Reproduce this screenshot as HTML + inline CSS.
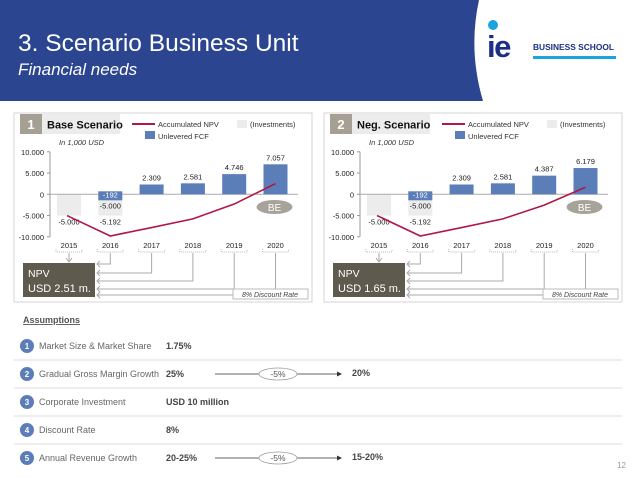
<!DOCTYPE html>
<html><head><meta charset="utf-8"><style>
html,body{margin:0;padding:0;background:#fff;}
svg{display:block;font-family:"Liberation Sans",sans-serif;}
</style></head><body>
<svg id="s" width="638" height="478" viewBox="0 0 638 478" xmlns="http://www.w3.org/2000/svg">
<path d="M0,0 H479 Q468,50 483,101 H0 Z" fill="#2b4590"/>
<text x="18" y="51" font-size="24.5" fill="#fff">3. Scenario Business Unit</text>
<text x="18" y="75" font-size="17" font-style="italic" fill="#fff">Financial needs</text>
<g>
<circle cx="493" cy="25" r="5" fill="#1aa3dd"/>
<text x="487" y="57" font-size="31" font-weight="bold" fill="#1a2f85" letter-spacing="-1.5">ie</text>
<text x="533" y="50" font-size="8.4" font-weight="bold" fill="#1a2f85">BUSINESS SCHOOL</text>
<rect x="533" y="56" width="83" height="3" fill="#1aa3dd"/>
</g>
<g id="panels"></g>
<g id="assump"></g>
<text x="626" y="468" font-size="8" fill="#999" text-anchor="end">12</text>
</svg>
<script>
const years = ["2015","2016","2017","2018","2019","2020"];
const investments = [-5000, -5000, 0, 0, 0, 0];
const fcfBase = [0, -192, 2309, 2581, 4746, 7057];
const fcfNeg = [0, -192, 2309, 2581, 4387, 6179];
const npvBase = [-5000, -9807, -7827, -5778, -2290, 2513];
const npvNeg = [-5000, -9807, -7828, -5779, -2554, 1652];
const yTicks = [10000, 5000, 0, -5000, -10000];
const yTickLabels = ["10.000","5.000","0","-5.000","-10.000"];
const fcfLabelsBase = ["", "-192", "2.309", "2.581", "4.746", "7.057"];
const fcfLabelsNeg = ["", "-192", "2.309", "2.581", "4.387", "6.179"];

const NS = "http://www.w3.org/2000/svg";
function mk(parent, tag, attrs, txt){
  const e = document.createElementNS(NS, tag);
  for (const k in attrs) e.setAttribute(k, attrs[k]);
  if (txt !== undefined) e.textContent = txt;
  parent.appendChild(e);
  return e;
}
function fmt(v){ const s=Math.abs(v).toString(); const t=s.length>3? s.slice(0,-3)+"."+s.slice(-3):s; return (v<0?"-":"")+t; }

function panel(ox, num, title, fcf, fcfLbl, npv, npvText){
  const g = mk(document.getElementById("panels"), "g", {transform:"translate("+ox+",0)"});
  
  
  const y = v => 194.3 - v*0.00425;
  const x = i => 69 + i*41.3;
  mk(g,"rect",{x:14,y:113,width:298,height:189,fill:"none",stroke:"#d4d4d4"});
  const hn = mk(g,"rect",{x:20,y:114,width:22,height:20,fill:"#a59f94"});
  
  
  mk(g,"text",{x:31,y:129,"font-size":13,"font-weight":"bold",fill:"#fff","text-anchor":"middle"},num);
  mk(g,"rect",{x:42,y:114,width:78,height:20,fill:"#ececec"});
  const tt = mk(g,"text",{x:47,y:128.5,"font-size":11,"font-weight":"bold",fill:"#111"},title);
  
  
  const lg = mk(g,"g",{});
  
  
  mk(lg,"line",{x1:132,y1:124,x2:155,y2:124,stroke:"#b0174a","stroke-width":2});
  mk(lg,"text",{x:158,y:127,"font-size":7.5,fill:"#333"},"Accumulated NPV");
  mk(lg,"rect",{x:145,y:131,width:10,height:8,fill:"#5b7db8"});
  mk(lg,"text",{x:158,y:139,"font-size":7.5,fill:"#333"},"Unlevered FCF");
  mk(lg,"rect",{x:237,y:120,width:10,height:8,fill:"#ececec"});
  mk(lg,"text",{x:250,y:127,"font-size":7.5,fill:"#333"},"(Investments)");
  mk(g,"text",{x:59,y:145,"font-size":7.5,"font-style":"italic",fill:"#333"},"In 1,000 USD");
  const ax = mk(g,"g",{});
  
  
  mk(ax,"line",{x1:50,y1:y(10000),x2:50,y2:y(-10000),stroke:"#999"});
  yTicks.forEach((t,i)=>{
    mk(ax,"line",{x1:47,y1:y(t),x2:50,y2:y(t),stroke:"#999"});
    mk(ax,"text",{x:44,y:y(t)+3,"font-size":7.5,fill:"#222","text-anchor":"end"},yTickLabels[i]);
  });
  investments.forEach((v,i)=>{
    if(!v) return;
    const r = mk(g,"rect",{x:x(i)-12,y:y(0),width:24,height:y(v)-y(0),fill:"#ececec"});
    
    
  });
  mk(g,"line",{x1:50,y1:y(0),x2:298,y2:y(0),stroke:"#aaa"});
  fcf.forEach((v,i)=>{
    if(!v) return;
    const top = Math.min(y(v),y(0)), h=Math.abs(y(v)-y(0));
    if (v<0){
      const r = mk(g,"rect",{x:x(i)-12,y:y(0)-3,width:24,height:Math.max(h,6)+3,fill:"#5b7db8"});
      
      
      mk(g,"text",{x:x(i),y:y(0)+3,"font-size":7.5,fill:"#fff","text-anchor":"middle"},fcfLbl[i]);
    } else {
      const r = mk(g,"rect",{x:x(i)-12,y:top,width:24,height:h,fill:"#5b7db8"});
      
      
      mk(g,"text",{x:x(i),y:top-4,"font-size":7.5,fill:"#222","text-anchor":"middle"},fcfLbl[i]);
    }
  });
  mk(g,"text",{x:x(0),y:y(-5000)+9,"font-size":7.5,fill:"#222","text-anchor":"middle"},fmt(investments[0]));
  mk(g,"text",{x:x(1),y:y(-3300),"font-size":7.5,fill:"#222","text-anchor":"middle"},fmt(investments[1]));
  mk(g,"text",{x:x(1),y:y(-5000)+9,"font-size":7.5,fill:"#222","text-anchor":"middle"},fmt(investments[1]+fcf[1]));
  const be = mk(g,"g",{});
  
  
  mk(be,"ellipse",{cx:x(5)-1,cy:207,rx:18,ry:7,fill:"#a8a39a"});
  mk(be,"text",{x:x(5)-1,y:211,"font-size":10,fill:"#fff","text-anchor":"middle"},"BE");
  const pts = npv.map((v,i)=>(x(i)+(i==0?-2:0))+","+y(v)).join(" ");
  const pl = mk(g,"polyline",{points:pts,fill:"none",stroke:"#b0174a","stroke-width":1.6});
  
  
  const levels=[0,264,273,281,289,295];
  years.forEach((yr,i)=>{
    const t = mk(g,"text",{x:x(i),y:248,"font-size":7.5,fill:"#222","text-anchor":"middle"},yr);
    
    
    mk(g,"path",{d:"M"+(x(i)-13)+",249 v3 h26 v-3",fill:"none",stroke:"#bbb","stroke-dasharray":"1,1"});
    if(i===0){
      mk(g,"path",{d:"M"+x(i)+",253 V262 M"+(x(i)-3)+",258 L"+x(i)+",262 L"+(x(i)+3)+",258",fill:"none",stroke:"#aaa"});
    } else {
      mk(g,"path",{d:"M"+x(i)+",253 V"+levels[i]+" H97 M100,"+(levels[i]-3)+" L97,"+levels[i]+" L100,"+(levels[i]+3),fill:"none",stroke:"#aaa"});
    }
  });
  const nb = mk(g,"g",{});
  
  
  mk(nb,"rect",{x:23,y:263,width:72,height:34,fill:"#5e5a4d"});
  const t1 = mk(nb,"text",{x:28,y:277,"font-size":10.5,fill:"#fff"},"NPV");
  mk(nb,"tspan",{"font-size":6.5,dy:2},"Project");
  mk(nb,"text",{x:28,y:292,"font-size":11,fill:"#fff"},npvText);
  const dr = mk(g,"g",{});
  
  
  mk(dr,"rect",{x:233,y:289,width:75,height:10,fill:"#fff",stroke:"#bbb"});
  mk(dr,"text",{x:270,y:297,"font-size":7,"font-style":"italic",fill:"#444","text-anchor":"middle"},"8% Discount Rate");
}
panel(0,"1","Base Scenario",fcfBase,fcfLabelsBase,npvBase,"USD 2.51 m.");
panel(310,"2","Neg. Scenario",fcfNeg,fcfLabelsNeg,npvNeg,"USD 1.65 m.");

const A = document.getElementById("assump");
const ah = mk(A,"text",{x:23,y:323,"font-size":9,"font-weight":"bold",fill:"#555","text-decoration":"underline"},"Assumptions");


const rows = [
  ["Market Size & Market Share","1.75%",null],
  ["Gradual Gross Margin Growth","25%","20%"],
  ["Corporate Investment","USD 10 million",null],
  ["Discount Rate","8%",null],
  ["Annual Revenue Growth","20-25%","15-20%"]
];
rows.forEach((r,i)=>{
  const cy = 346 + i*28;
  const g = mk(A,"g",{});
  
  
  mk(g,"circle",{cx:27,cy:cy,r:7,fill:"#5b7db8"});
  mk(g,"text",{x:27,y:cy+3,"font-size":8,"font-weight":"bold",fill:"#fff","text-anchor":"middle"},String(i+1));
  mk(g,"text",{x:39,y:cy+3,"font-size":9,fill:"#666"},r[0]);
  mk(g,"text",{x:166,y:cy+3,"font-size":9,"font-weight":"bold",fill:"#444"},r[1]);
  if (r[2]){
    mk(g,"line",{x1:215,y1:cy,x2:337,y2:cy,stroke:"#333","stroke-width":0.8});
    mk(g,"path",{d:"M337,"+(cy-2.5)+" L342,"+cy+" L337,"+(cy+2.5)+" Z",fill:"#333"});
    mk(g,"ellipse",{cx:278,cy:cy,rx:19,ry:6,fill:"#fff",stroke:"#999","stroke-width":0.7});
    mk(g,"text",{x:278,y:cy+3,"font-size":8.5,fill:"#555","text-anchor":"middle"},"-5%");
    mk(g,"text",{x:352,y:cy+2,"font-size":9,"font-weight":"bold",fill:"#444"},r[2]);
  }
  if (i<4) mk(g,"line",{x1:14,y1:cy+14,x2:622,y2:cy+14,stroke:"#ddd"});
});
</script>
</body></html>
